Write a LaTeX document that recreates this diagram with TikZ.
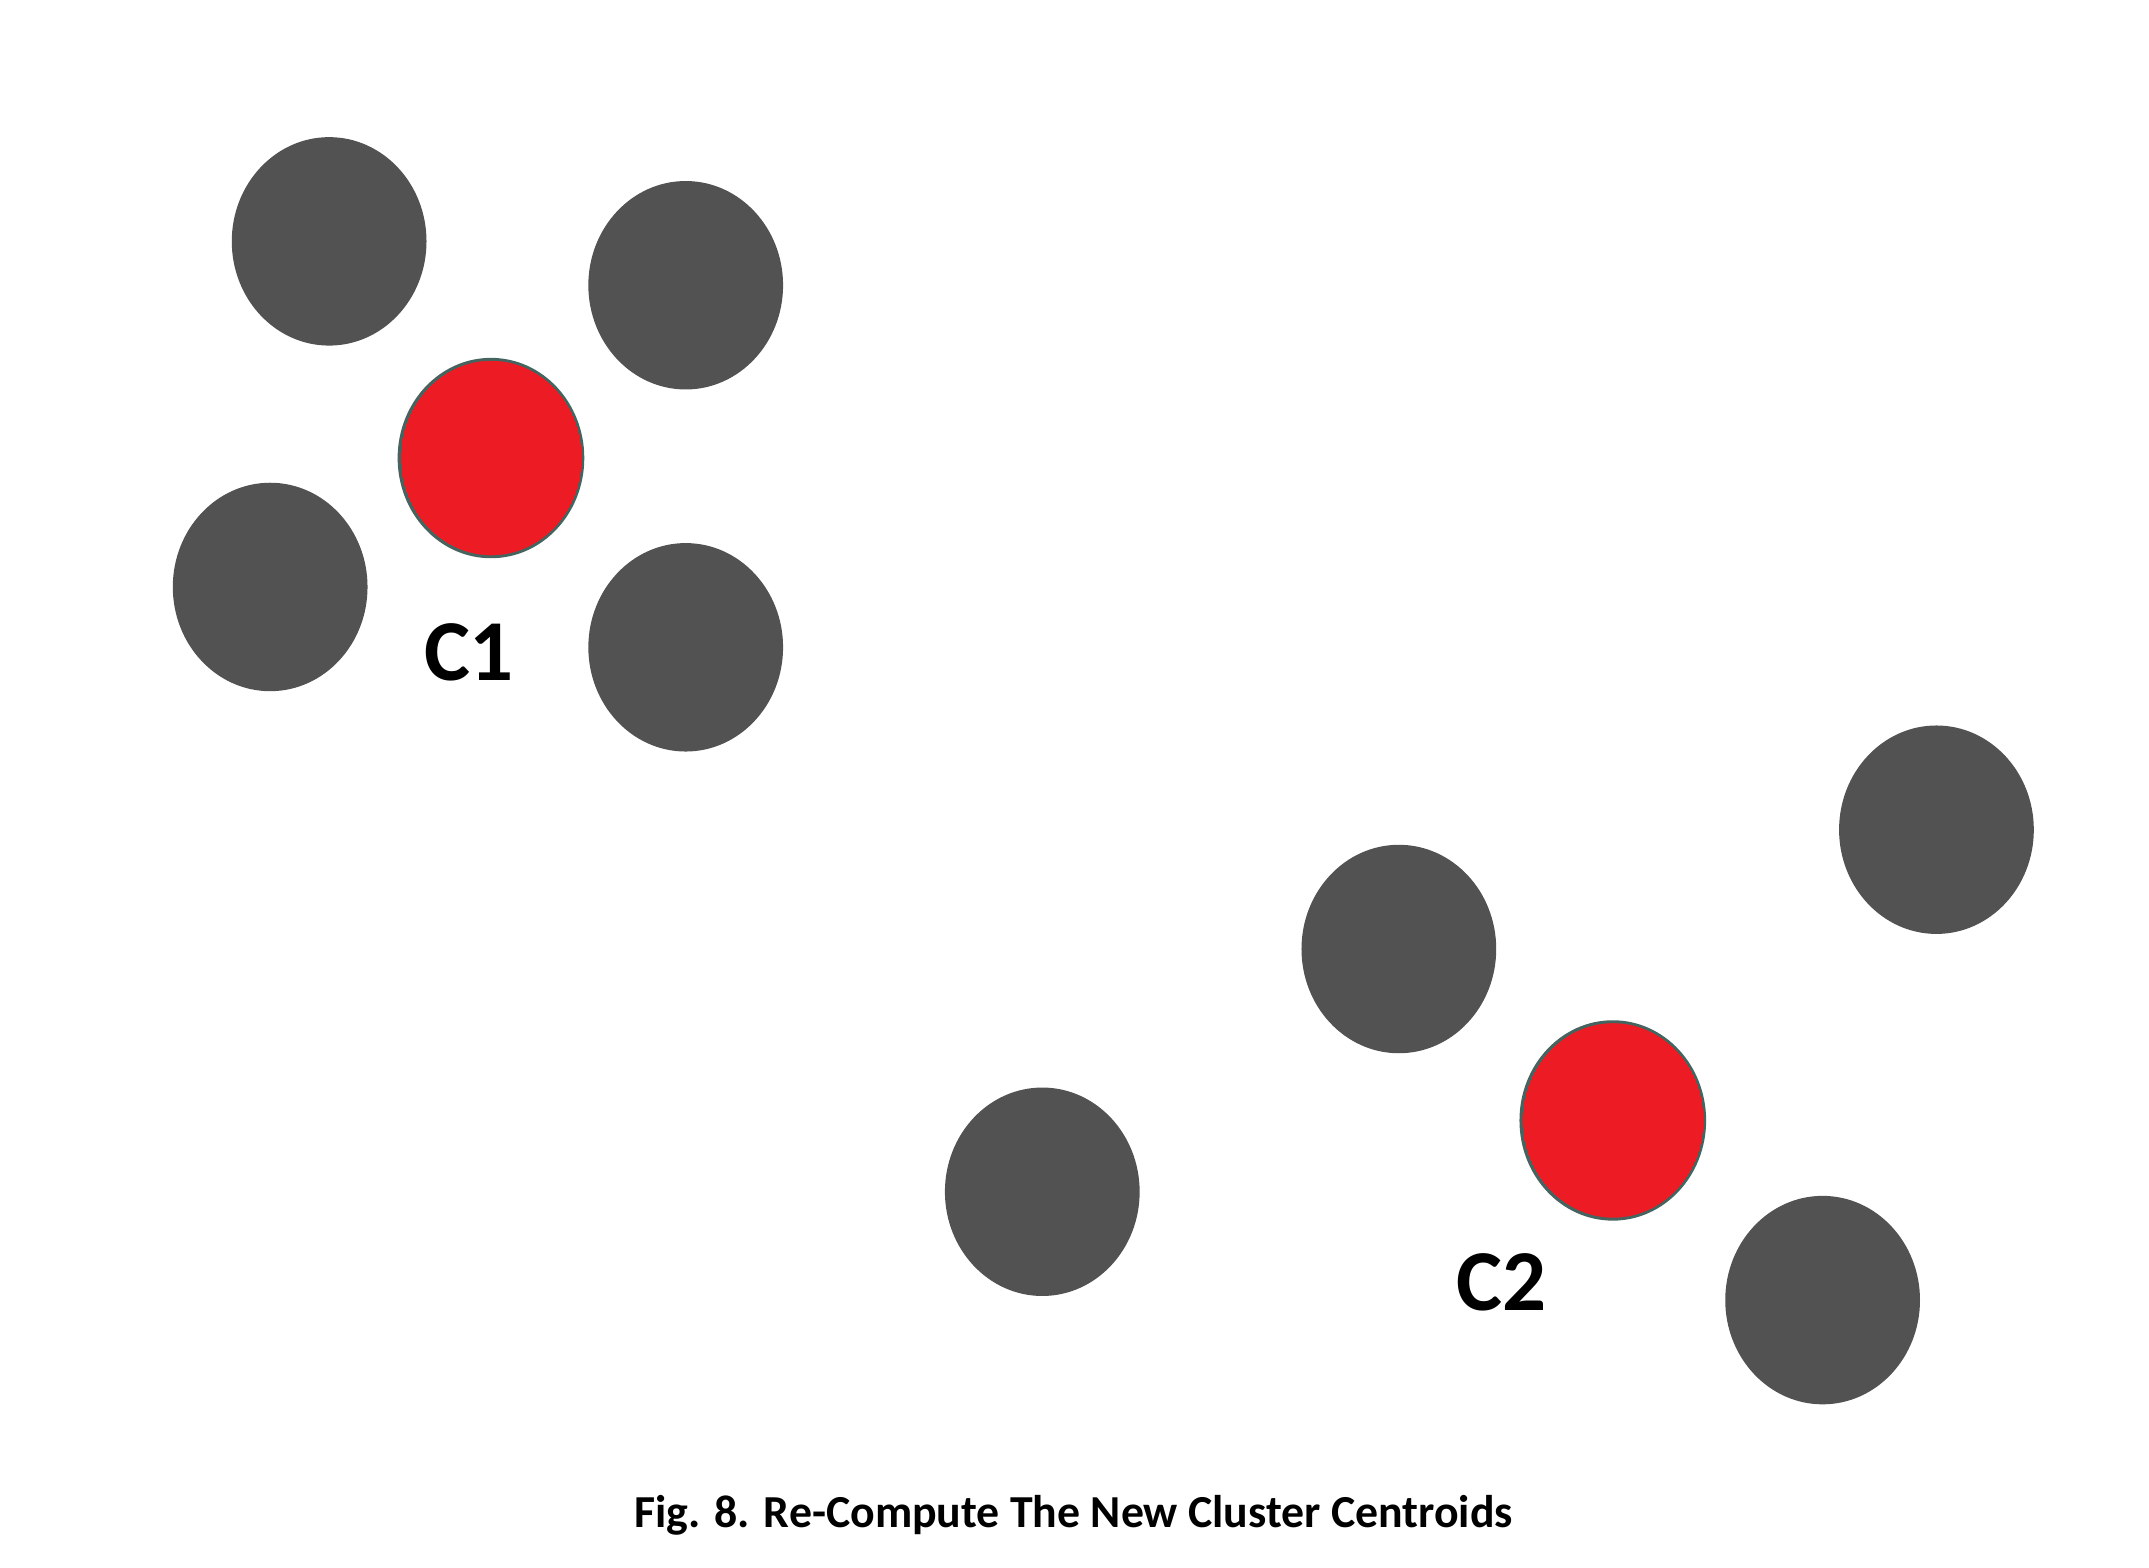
\documentclass[tikz,border=0pt]{standalone}
\usepackage{fontspec}
\setmainfont{Carlito}
\begin{document}
\begin{tikzpicture}[x=0.01cm,y=-0.01cm,
  pt/.style={fill={rgb,255:red,82;green,82;blue,82}},
  cen/.style={fill={rgb,255:red,237;green,28;blue,36},draw={rgb,255:red,70;green,100;blue,95},line width=0.6pt},
  lab/.style={font=\bfseries\fontsize{18}{20}\selectfont}]
\useasboundingbox (0,0) rectangle (1567,1143);
\foreach \n/\x/\y in {a/240/176,b/500/208,c/197/428,d/500/472,e/1020/692,f/1412/605,g/760/869,h/1329/948}
  \fill[pt] (\x,\y) ellipse [x radius=71, y radius=76];
\draw[cen] (358,334) ellipse [x radius=67, y radius=72];
\draw[cen] (1176,817) ellipse [x radius=67, y radius=72];
\node[lab] (c1) at (342,476) {C1};
\node[lab] (c2) at (1095,935) {C2};
\node[font=\bfseries\fontsize{9.5}{11}\selectfont] (cap) at (783,1105) {Fig. 8. Re-Compute The New Cluster Centroids};
\end{tikzpicture}
\end{document}
